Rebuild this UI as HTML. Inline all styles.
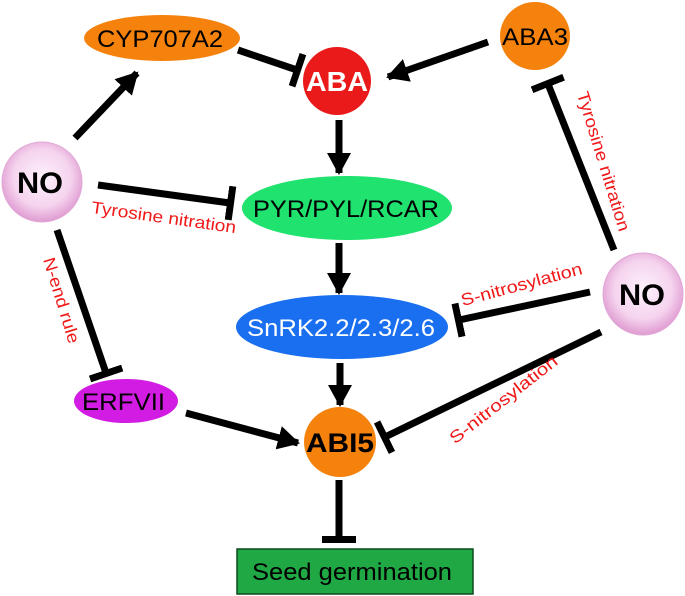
<!DOCTYPE html>
<html><head><style>
html,body{margin:0;padding:0;background:#fff;}
svg{display:block;}
text{font-family:"Liberation Sans",Arial,sans-serif;}
</style></head><body>
<svg width="685" height="596" viewBox="0 0 685 596" xmlns="http://www.w3.org/2000/svg">
<defs>
<marker id="ar" markerUnits="userSpaceOnUse" markerWidth="30" markerHeight="30" refX="20" refY="12" orient="auto">
<path d="M0,0 L22,12 L0,24 Z" fill="#000"/>
</marker>
<marker id="bar" markerUnits="userSpaceOnUse" markerWidth="10" markerHeight="40" refX="3" refY="17" orient="auto">
<rect x="0" y="0" width="7" height="34" fill="#000"/>
</marker>
<radialGradient id="pk" cx="0.5" cy="0.45" r="0.6">
<stop offset="0" stop-color="#fdf2fb"/>
<stop offset="0.6" stop-color="#f5d3ee"/>
<stop offset="1" stop-color="#d98cc9"/>
</radialGradient>
</defs>
<g stroke="#000" stroke-width="7" fill="none">
<line x1="75" y1="138" x2="137" y2="73" marker-end="url(#ar)"/>
<line x1="238" y1="50" x2="297" y2="70" marker-end="url(#bar)"/>
<line x1="488" y1="42" x2="388" y2="77" marker-end="url(#ar)"/>
<line x1="339" y1="120" x2="339" y2="173" marker-end="url(#ar)"/>
<line x1="98" y1="185" x2="230" y2="203" marker-end="url(#bar)"/>
<line x1="339" y1="243" x2="339" y2="293" marker-end="url(#ar)"/>
<line x1="614" y1="250" x2="548" y2="84" marker-end="url(#bar)"/>
<line x1="590" y1="292" x2="459" y2="320" marker-end="url(#bar)"/>
<line x1="601" y1="332" x2="385" y2="437" marker-end="url(#bar)"/>
<line x1="57" y1="230" x2="106" y2="373" marker-end="url(#bar)"/>
<line x1="186" y1="413" x2="298" y2="443" marker-end="url(#ar)"/>
<line x1="340" y1="363" x2="340" y2="405" marker-end="url(#ar)"/>
<line x1="339" y1="480" x2="339" y2="539" marker-end="url(#bar)"/>
</g>
<ellipse cx="162" cy="38" rx="78" ry="23" fill="#f5820d"/>
<text x="97" y="47" font-size="24" textLength="126" lengthAdjust="spacingAndGlyphs">CYP707A2</text>
<ellipse cx="337" cy="81" rx="34" ry="34" fill="#ea1a1a"/>
<text x="306" y="91" font-size="28" font-weight="bold" fill="#fff" textLength="62" lengthAdjust="spacingAndGlyphs">ABA</text>
<ellipse cx="535" cy="36" rx="35" ry="34" fill="#f5820d"/>
<text x="502" y="45" font-size="24" textLength="66" lengthAdjust="spacingAndGlyphs">ABA3</text>
<ellipse cx="42" cy="182" rx="40" ry="40" fill="url(#pk)" stroke="#e0a8d6"/>
<text x="17" y="193" font-size="30" font-weight="bold" textLength="46" lengthAdjust="spacingAndGlyphs">NO</text>
<ellipse cx="347" cy="208" rx="105" ry="32" fill="#1fe26f"/>
<text x="253" y="217" font-size="24" textLength="186" lengthAdjust="spacingAndGlyphs">PYR/PYL/RCAR</text>
<ellipse cx="643" cy="294" rx="40" ry="41" fill="url(#pk)" stroke="#e0a8d6"/>
<text x="619" y="305" font-size="30" font-weight="bold" textLength="46" lengthAdjust="spacingAndGlyphs">NO</text>
<ellipse cx="342" cy="327" rx="106" ry="32" fill="#1a6ff0"/>
<text x="247" y="336" font-size="24" fill="#fff" textLength="188" lengthAdjust="spacingAndGlyphs">SnRK2.2/2.3/2.6</text>
<ellipse cx="126" cy="401" rx="52" ry="22" fill="#d31ce3"/>
<text x="82" y="410" font-size="24" textLength="83" lengthAdjust="spacingAndGlyphs">ERFVII</text>
<ellipse cx="340" cy="442" rx="36" ry="35" fill="#f5820d"/>
<text x="306" y="452" font-size="27" font-weight="bold" textLength="68" lengthAdjust="spacingAndGlyphs">ABI5</text>
<rect x="237" y="549" width="236" height="45" fill="#1fa844" stroke="#0d4a1d" stroke-width="1.5"/>
<text x="252" y="580" font-size="24" textLength="200" lengthAdjust="spacingAndGlyphs">Seed germination</text>
<g fill="#f01818" font-size="17" text-anchor="middle">
<text transform="translate(163,223) rotate(8)" textLength="146" lengthAdjust="spacingAndGlyphs">Tyrosine nitration</text>
<text transform="translate(598,163) rotate(73)" textLength="145" lengthAdjust="spacingAndGlyphs">Tyrosine nitration</text>
<text transform="translate(523,290) rotate(-15)" textLength="125" lengthAdjust="spacingAndGlyphs">S-nitrosylation</text>
<text transform="translate(507,404) rotate(-38)" textLength="132" lengthAdjust="spacingAndGlyphs">S-nitrosylation</text>
<text transform="translate(56,302) rotate(73)" textLength="89" lengthAdjust="spacingAndGlyphs">N-end rule</text>
</g>
</svg>
</body></html>
